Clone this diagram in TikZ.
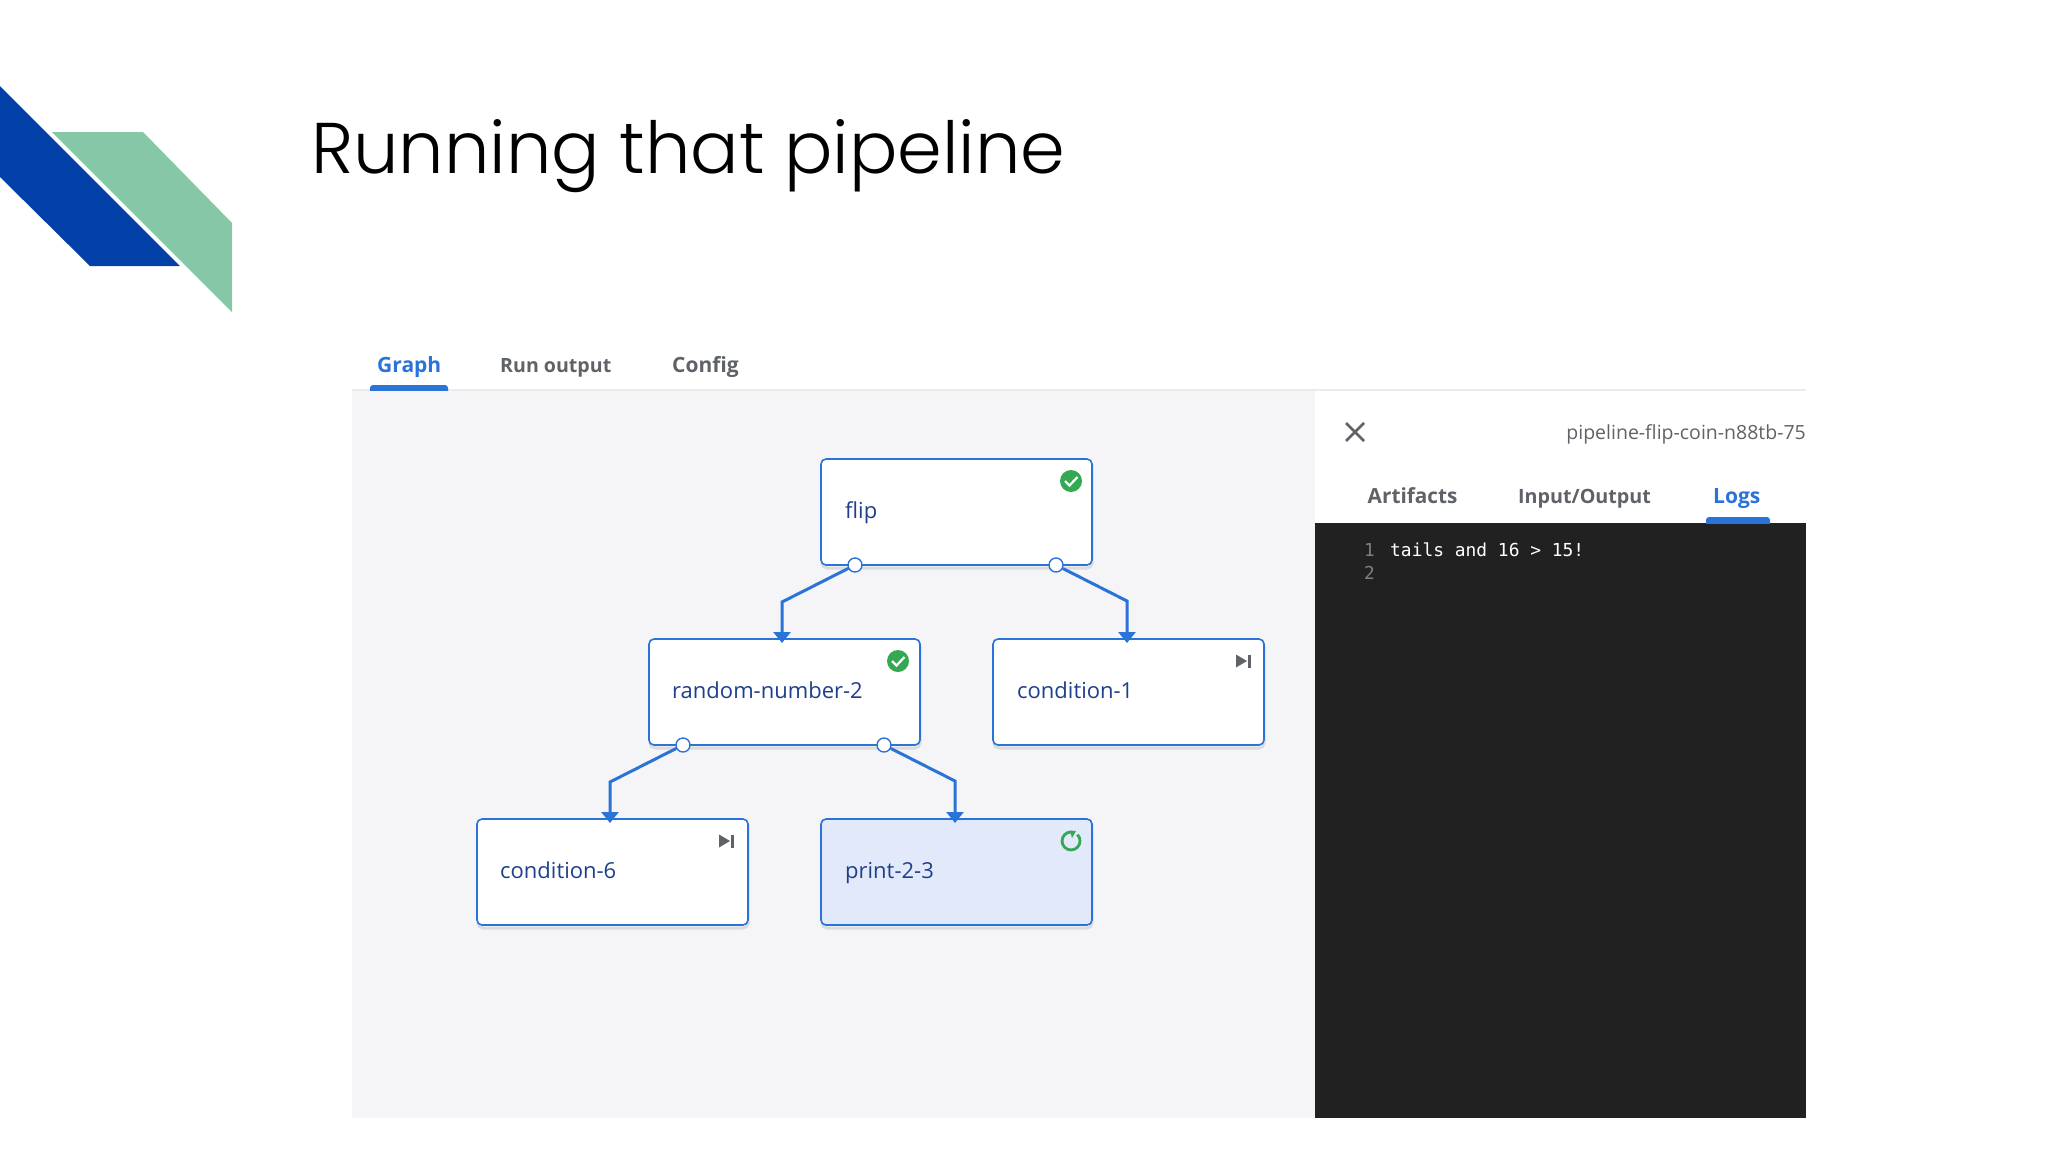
\documentclass[tikz,border=0pt]{standalone}
\usepackage{fontspec}
\setmainfont{Open Sans}
\newfontfamily\titlefont{Poppins Light}
\newfontfamily\codefont{DejaVu Sans Mono}
\usetikzlibrary{arrows.meta,calc}
\definecolor{edgeblue}{HTML}{2A73D9}
\definecolor{navy}{HTML}{1E3F8B}
\definecolor{panelgray}{HTML}{F5F5F7}
\definecolor{tabgray}{HTML}{5F6368}
\definecolor{okgreen}{HTML}{34A853}
\definecolor{darkbg}{HTML}{212122}
\definecolor{printfill}{HTML}{E2E9FA}
\definecolor{brandblue}{HTML}{0340A8}
\definecolor{brandgreen}{HTML}{85C7A7}
\tikzset{
  x=1pt,y=-1pt,
  taskbox/.style={draw=edgeblue,line width=1.6pt,fill=white,rounded corners=5pt,minimum width=271pt,minimum height=106pt,anchor=north west,inner sep=0pt,outer sep=0pt},
  boxshadow/.style={draw=black,draw opacity=.10,line width=3pt,rounded corners=5pt},
  tasklabel/.style={anchor=base west,inner sep=0pt,text=navy,font=\fontsize{22}{26}\selectfont},
  port/.style={circle,draw=edgeblue,line width=1.4pt,fill=white,minimum size=14pt,inner sep=0pt},
  edge/.style={draw=edgeblue,line width=3pt,-{Triangle[width=17pt,length=11pt]},line join=miter},
  tablabel/.style={anchor=base west,inner sep=0pt,text=tabgray,font=\fontsize{20.8}{25}\selectfont\bfseries},
  tabbar/.style={fill=edgeblue,rounded corners=3pt},
  okdot/.style={circle,fill=okgreen,minimum size=22pt,inner sep=0pt},
  tick/.style={draw=white,line width=2.2pt},
  skipicon/.style={fill=tabgray},
}
\begin{document}
\begin{tikzpicture}
\useasboundingbox (0,0) rectangle (2048,1152);
\fill[white] (0,0) rectangle (2048,1152);
% brand shapes
\fill[brandblue] (0,86) -- (180,266) -- (90,266) -- (0,177) -- cycle;
\fill[brandgreen] (52,132) -- (143,132) -- (232,223) -- (232,312) -- cycle;
\node[anchor=base west,inner sep=0pt,font=\titlefont\fontsize{71.8}{80}\selectfont] (title) at (311,173) {Running that pipeline};
% panels
\fill[panelgray] (352,391) rectangle (1315,1118);
\draw[black!8,line width=1.5pt] (352,390) -- (1806,390);
\fill[white] (1315,391) rectangle (1806,523);
\fill[darkbg] (1315,523) rectangle (1806,1118);
% tabs
\node[tablabel,text=edgeblue,font=\fontsize{21}{25}\selectfont\bfseries] (tabGraph) at (377,372) {Graph};
\node[tablabel,font=\fontsize{19.6}{25}\selectfont\bfseries] (tabRun) at (500,372) {Run output};
\node[tablabel,font=\fontsize{21}{25}\selectfont\bfseries] (tabConfig) at (672,372) {Config};
\begin{scope}
\clip (360,380) rectangle (460,390);
\fill[tabbar] (370,385) rectangle (448,400);
\end{scope}
\node[anchor=base east,inner sep=0pt,text=tabgray,font=\fontsize{19.5}{24}\selectfont] (runName) at (1806,439) {pipeline-flip-coin-n88tb-75};
\coordinate (xa) at (1346,423); \coordinate (xb) at (1364,441);
\coordinate (xc) at (1346,441); \coordinate (xd) at (1364,423);
\draw[tabgray,line width=2.6pt] (xa) -- (xb) (xc) -- (xd);
\node[tablabel] (tabArt) at (1367.5,503) {Artifacts};
\node[tablabel,font=\fontsize{19.7}{25}\selectfont\bfseries] (tabIO) at (1518,503) {Input/Output};
\node[tablabel,text=edgeblue,font=\fontsize{21}{25}\selectfont\bfseries] (tabLogs) at (1713,503) {Logs};
\begin{scope}
\clip (1690,512) rectangle (1790,523);
\fill[tabbar] (1706,517) rectangle (1770,530);
\end{scope}
% log
\node[anchor=base west,inner sep=0pt,text=black!50,font=\codefont\fontsize{17.8}{20}\selectfont] (ln1) at (1364,556) {1};
\node[anchor=base west,inner sep=0pt,text=black!50,font=\codefont\fontsize{17.8}{20}\selectfont] (ln2) at (1364,579) {2};
\node[anchor=base west,inner sep=0pt,text=white,font=\codefont\fontsize{17.9}{20}\selectfont] (log) at (1390,556) {tails and 16 > 15!};
% boxes
\draw[boxshadow] (822,461) rectangle (1092,568);
\draw[boxshadow] (650,641) rectangle (920,748);
\draw[boxshadow] (994,641) rectangle (1264,748);
\draw[boxshadow] (478,821) rectangle (748,928);
\draw[boxshadow] (822,821) rectangle (1092,928);
\node[taskbox] (flip) at (821,459) {};
\node[taskbox] (rn) at (649,639) {};
\node[taskbox] (c1) at (993,639) {};
\node[taskbox] (c6) at (477,819) {};
\node[taskbox,fill=printfill] (pr) at (821,819) {};
\node[tasklabel] (lFlip) at (845,518.5) {flip};
\node[tasklabel] (lRn) at (672,698) {random-number-2};
\node[tasklabel] (lC1) at (1017,698) {condition-1};
\node[tasklabel] (lC6) at (500,878) {condition-6};
\node[tasklabel] (lPr) at (845,878) {print-2-3};
% connectors
\coordinate (bA) at (782,602); \coordinate (inA) at (782,643);
\coordinate (bB) at (1127,601); \coordinate (inB) at (1127,643);
\coordinate (bC) at (610,782); \coordinate (inC) at (610,823);
\coordinate (bD) at (955,781); \coordinate (inD) at (955,823);
\node[port] (pA) at (855,565) {};
\node[port] (pB) at (1056,565) {};
\node[port] (pC) at (683,745) {};
\node[port] (pD) at (884,745) {};
\draw[edge] (pA) -- (bA) -- (inA);
\draw[edge] (pB) -- (bB) -- (inB);
\draw[edge] (pC) -- (bC) -- (inC);
\draw[edge] (pD) -- (bD) -- (inD);
% status icons
\node[okdot] (okA) at (1071,481) {};
\draw[tick] ($(okA)+(-6,0)$) -- ($(okA)+(-1.5,4.5)$) -- ($(okA)+(6.5,-4)$);
\node[okdot] (okB) at (898,661) {};
\draw[tick] ($(okB)+(-6,0)$) -- ($(okB)+(-1.5,4.5)$) -- ($(okB)+(6.5,-4)$);
\fill[skipicon] (1236,654.5) -- (1247,661) -- (1236,667.5) -- cycle;
\fill[skipicon] (1248,654.5) rectangle (1250.5,667.5);
\fill[skipicon] (719,834.5) -- (730,841) -- (719,847.5) -- cycle;
\fill[skipicon] (731,834.5) rectangle (733.5,847.5);
\coordinate (spin) at (1071,841);
\draw[okgreen,line width=2.8pt] ($(spin)+(6.4,-6.4)$) arc[start angle=45,end angle=-270,radius=9pt];
\fill[okgreen] ($(spin)+(-1,-10.5)$) -- ($(spin)+(5,-10)$) -- ($(spin)+(1,-3)$) -- cycle;
\end{tikzpicture}
\end{document}
